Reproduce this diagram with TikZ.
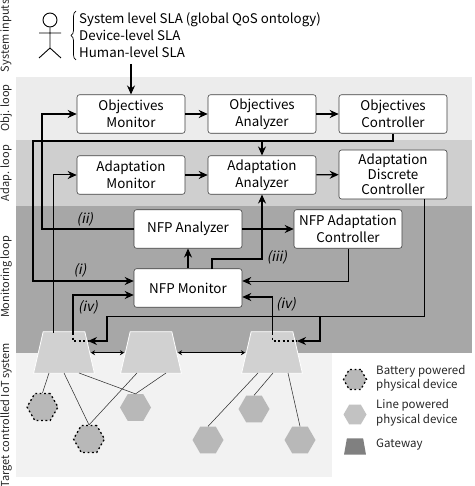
\documentclass[tikz,border=0pt]{standalone}
\usepackage{fontspec}
\setmainfont[AutoFakeSlant=0.2]{Noto Sans CJK SC}
\usetikzlibrary{arrows.meta,shapes.geometric,decorations.pathreplacing}
\definecolor{objband}{gray}{0.925}
\definecolor{adapband}{gray}{0.81}
\definecolor{monband}{gray}{0.655}
\definecolor{iotband}{gray}{0.95}
\definecolor{gwfill}{gray}{0.82}
\definecolor{devfill}{gray}{0.72}
\tikzset{
  x=1pt,y=-1pt,
  blockbox/.style={draw=black!75,fill=white,rounded corners=2.5pt,line width=.6pt,minimum width=108pt,minimum height=38.5pt,align=center,inner sep=0pt,font=\fontsize{13.4}{17.5}\selectfont},
  flow/.style={line width=1.3pt,-{Stealth[length=9pt,width=8pt]}},
  flowplain/.style={line width=1.3pt},
  thinflow/.style={line width=1pt,-{Stealth[length=9pt,width=8pt]}},
  twoway/.style={line width=1.1pt,{Stealth[length=4pt,width=5pt]}-{Stealth[length=4pt,width=5pt]}},
  looplabel/.style={rotate=90,font=\fontsize{11}{13}\selectfont,text=black!85},
  tag/.style={font=\fontsize{13.5}{15}\selectfont\itshape,inner sep=0pt},
  gateway/.style={trapezium,trapezium angle=77,fill=gwfill,draw=white,line width=.8pt,minimum width=61pt,minimum height=39pt,inner sep=1pt},
  device/.style={regular polygon,regular polygon sides=6,fill=devfill,minimum size=31pt,inner sep=0pt},
  battery/.style={device,draw=black,line width=1.3pt,dash pattern=on 1.8pt off 2.6pt},
  legendtext/.style={font=\fontsize{11.5}{14.5}\selectfont,align=left,anchor=west,inner sep=0pt,text=black!85},
  link/.style={line width=.55pt,black!80}
}
\begin{document}
\begin{tikzpicture}
   \useasboundingbox (0,0) rectangle (474,486);
   % bands
   \fill[objband] (16,77) rectangle (472,140);
   \fill[adapband] (16,140) rectangle (472,206);
   \fill[monband] (16,206) rectangle (472,353);
   \fill[iotband] (16,353) rectangle (332,477);
   \foreach \n/\y/\l in
     {lblinputs/36/{System inputs},
      lblobj/108/{Obj. loop},
      lbladap/173/{Adap. loop},
      lblmon/277/{Monitoring loop},
      lbliot/415/{Target controlled IoT system}}
     \node[looplabel] (\n) at (6,\y) {\l};
   % actor
   \node[circle,draw,line width=.9pt,minimum size=14pt,inner sep=0pt] (head) at (50,20) {};
   \coordinate (hip) at (50,48);
   \draw[line width=.9pt] (head) -- (hip) (39,33) -- (61,33) (39,58) -- (hip) -- (61,58);
   \node[anchor=west,align=left,inner sep=0pt,font=\fontsize{13.3}{17}\selectfont] (sla) at (79,35) {System level SLA (global QoS ontology)\\Device-level SLA\\Human-level SLA};
   \draw[line width=.7pt,decorate,decoration={brace,amplitude=5pt}] (76,60) -- (76,11);
   % boxes
   \node[blockbox] (objmon) at (131,114) {Objectives\\Monitor};
   \node[blockbox] (objana) at (262,114) {Objectives\\Analyzer};
   \node[blockbox] (objctl) at (393,114) {Objectives\\Controller};
   \node[blockbox] (adamon) at (131,175) {Adaptation\\Monitor};
   \node[blockbox] (adaana) at (262,175) {Adaptation\\Analyzer};
   \node[blockbox,minimum height=49pt,font=\fontsize{13.4}{15}\selectfont] (adactl) at (393,174.5) {Adaptation\\Discrete\\Controller};
   \node[blockbox] (nfpana) at (188,229) {NFP Analyzer};
   \node[blockbox] (nfpctl) at (348,229) {NFP Adaptation\\Controller};
   \node[blockbox] (nfpmon) at (188,288) {NFP Monitor};
   % gateways and devices
   \node[gateway] (gwa) at (64,352.5) {};
   \node[gateway] (gwb) at (151,352.5) {};
   \node[gateway] (gwc) at (272,352.5) {};
   \node[battery] (da) at (42.5,407) {};
   \node[battery] (db) at (89,439) {};
   \node[device] (dc) at (135.5,407.5) {};
   \node[device] (dd) at (208,440) {};
   \node[device] (de) at (254,409) {};
   \node[device] (df) at (300,440) {};
   \draw[link] (49,373) -- (da.north);
   \draw[link] (64,373) -- (db.north);
   \draw[link] (79,373) -- (dc.north);
   \draw[link] (137,373) -- (db.north);
   \draw[link] (166,373) -- (dc.north);
   \draw[link] (258,373) -- (dd.north);
   \draw[link] (273,373) -- (de.north);
   \draw[link] (288,373) -- (df.north);
   % free ends
   \coordinate (slaout) at (131,64);
   \coordinate (bus) at (262,141);
   \coordinate (tapa) at (73,333);
   \coordinate (tapb) at (53,333);
   \coordinate (tapc) at (272.5,333);
   \coordinate (ina) at (88,341);
   \coordinate (inc) at (297,341);
   \coordinate (down) at (424,316);
   % top rows
   \draw[flow] (slaout) -- (objmon.north);
   \draw[flow] (objmon) -- (objana);
   \draw[flow] (objana) -- (objctl);
   \draw[flow] (adamon) -- (adaana);
   \draw[flow] (adaana) -- (adactl);
   % loop (i) and the analyzer feedback
   \draw[flow] (objctl.south) |- (33,141) -- (33,281) -- (nfpmon.west |- 0,281);
   \draw[flow] (bus) -- (adaana.north);
   \draw[flow] (nfpana.west) -- (42,229) |- (objmon.west);
   \draw[thinflow] (tapb) |- (adamon.west);
   \draw[flow] (nfpana) -- (nfpctl);
   % monitor
   \draw[flow] (nfpmon.north) -- (nfpana.south);
   \draw[flow] (212,269) -- (212,259) -- (262,259) -- (adaana.south);
   \draw[thinflow] (nfpctl.south) |- (nfpmon.east |- 0,281);
   \draw[flow] (tapa) -- (73,295) -- (nfpmon.west |- 0,295);
   \draw[flow] (tapc) -- (272.5,297) -- (nfpmon.east |- 0,297);
   % controller down to the gateways
   \draw[line width=1pt] (424,199) -- (down) -- (107,316);
   \draw[flow] (107,316) |- (ina);
   \draw[flow] (320,316) |- (inc);
   \draw[flowplain,dash pattern=on 2pt off 2.5pt] (tapa) -- (73,341) -- (ina);
   \draw[flowplain,dash pattern=on 2pt off 2.5pt] (tapc) -- (272.5,341) -- (inc);
   \draw[twoway] (91,352.7) -- (124,352.7);
   \draw[twoway] (178,352.7) -- (245,352.7);
   % tags
   \foreach \n/\x/\y/\l in
     {tagii/85/219/{(ii)},
      tagi/80/270/{(i)},
      tagiii/277/257/{(iii)},
      tagiva/88/307/{(iv)},
      tagivb/286/304/{(iv)}}
     \node[tag] (\n) at (\x,\y) {\l};
   % legend
   \node[battery,minimum size=23pt] (legbat) at (355,379.5) {};
   \node[device,minimum size=23pt,fill=devfill!85] (legline) at (355,414.5) {};
   \node[trapezium,trapezium angle=80,fill=black!50,minimum width=22pt,minimum height=15pt,inner sep=1pt] (leggw) at (355,446.5) {};
   \node[legendtext] (txtbat) at (376,378.5) {Battery powered\\physical device};
   \node[legendtext] (txtline) at (376,413) {Line powered\\physical device};
   \node[legendtext] (txtgw) at (376,445) {Gateway};
\end{tikzpicture}
\end{document}
